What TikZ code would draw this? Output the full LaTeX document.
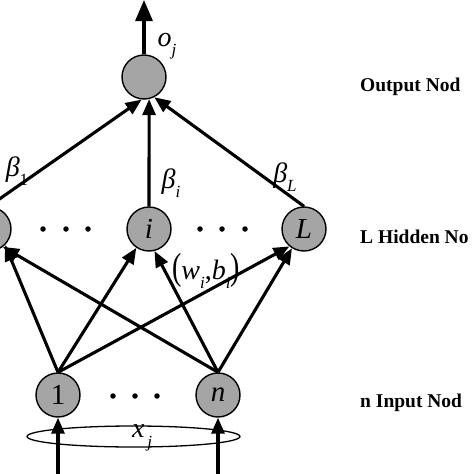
\documentclass[tikz,border=0pt]{standalone}
\usepackage{fontspec}
\setmainfont{Liberation Serif}
\usepackage{graphicx}
\usetikzlibrary{arrows.meta,shapes.geometric}
\definecolor{nodegray}{RGB}{165,165,165}
\newcommand\lowsub[1]{\raisebox{-0.34em}{\fontsize{17}{17}\selectfont #1}}
\begin{document}
\begin{tikzpicture}[x=1pt,y=-1pt,
  neuron/.style={circle,draw,line width=1.4pt,fill=nodegray,minimum size=44pt,inner sep=0pt,
    font=\fontsize{29}{29}\selectfont\itshape},
  conn/.style={line width=3.1pt,-{Triangle[length=16pt,width=13pt]}},
  conntop/.style={line width=3.1pt,-{Triangle[length=21pt,width=17pt]}},
  lbl/.style={font=\fontsize{28}{28}\selectfont\itshape,inner sep=0pt},
  side/.style={font=\fontsize{19.5}{19.5}\selectfont\bfseries,anchor=base west,inner sep=0pt},
  dotn/.style={circle,fill=black,inner sep=0pt,minimum size=5.5pt}]
\useasboundingbox (0,0) rectangle (474,474);
\clip (0,0) rectangle (474,474);
\fill[white] (0,0) rectangle (474,474);

% neurons
\node[neuron] (o)  at (144,77)  {};
\node[neuron] (h1) at (-11,229) {};
\node[neuron] (hi) at (149,229) {i};
\node[neuron] (hL) at (304,229) {L};
\node[neuron] (x1) at (58,395)  {\upshape 1};
\node[neuron] (xn) at (218,395) {n};

% dots
\node[dotn] (d1) at (43,229) {};
\node[dotn] (d2) at (66,229) {};
\node[dotn] (d3) at (88,229) {};
\node[dotn] (d4) at (200,229) {};
\node[dotn] (d5) at (222,229) {};
\node[dotn] (d6) at (245,229) {};
\node[dotn] (d7) at (113,396) {};
\node[dotn] (d8) at (135,396) {};
\node[dotn] (d9) at (157,396) {};

% output arrow
\coordinate (top) at (144,0);
\draw[conntop] (o.north) -- (top);

% hidden -> output
\draw[conn] (h1.north) -- (o.-96);
\draw[conn] (hi.north) -- (o.-77);
\draw[conn] (hL.north) -- (o.-63);

% input -> hidden
\draw[conn] (x1.north) -- (h1.-45);
\draw[conn] (x1.north) -- (hi.-124);
\draw[conn] (x1.north) -- (hL.-130);
\draw[conn] (xn.north) -- (h1.-52);
\draw[conn] (xn.north) -- (hi.-76);
\draw[conn] (xn.north) -- (hL.-122);

% inputs
\coordinate (b1) at (58,474);
\coordinate (bn) at (218,474);
\draw[conn] (b1) -- (x1.south);
\draw[conn] (bn) -- (xn.south);
\node[ellipse,draw,line width=1.3pt,minimum width=213pt,minimum height=21pt,inner sep=0pt] (ell) at (133.5,436.5) {};

% labels
\node[lbl] (oj) at (167,46) {o\lowsub{j}};
\node[lbl] (b1l) at (17,171) {β\lowsub{\upshape 1}};
\node[lbl] (bil) at (171,183) {β\lowsub{i}};
\node[lbl] (bLl) at (285,177) {β\lowsub{L}};
\node[lbl] (wb) at (206,271) {\scalebox{1}[1.35]{\upshape(}w\lowsub{i}{\upshape ,}b\lowsub{i}\scalebox{1}[1.35]{\upshape)}};
\node[lbl] (xj) at (142,438) {x\lowsub{\,j}};

% side labels
\node[side] (lo) at (360,91)  {Output Nod};
\node[side] (lh) at (360,243) {L Hidden No};
\node[side] (ln) at (360,407) {n Input Nod};
\end{tikzpicture}
\end{document}
